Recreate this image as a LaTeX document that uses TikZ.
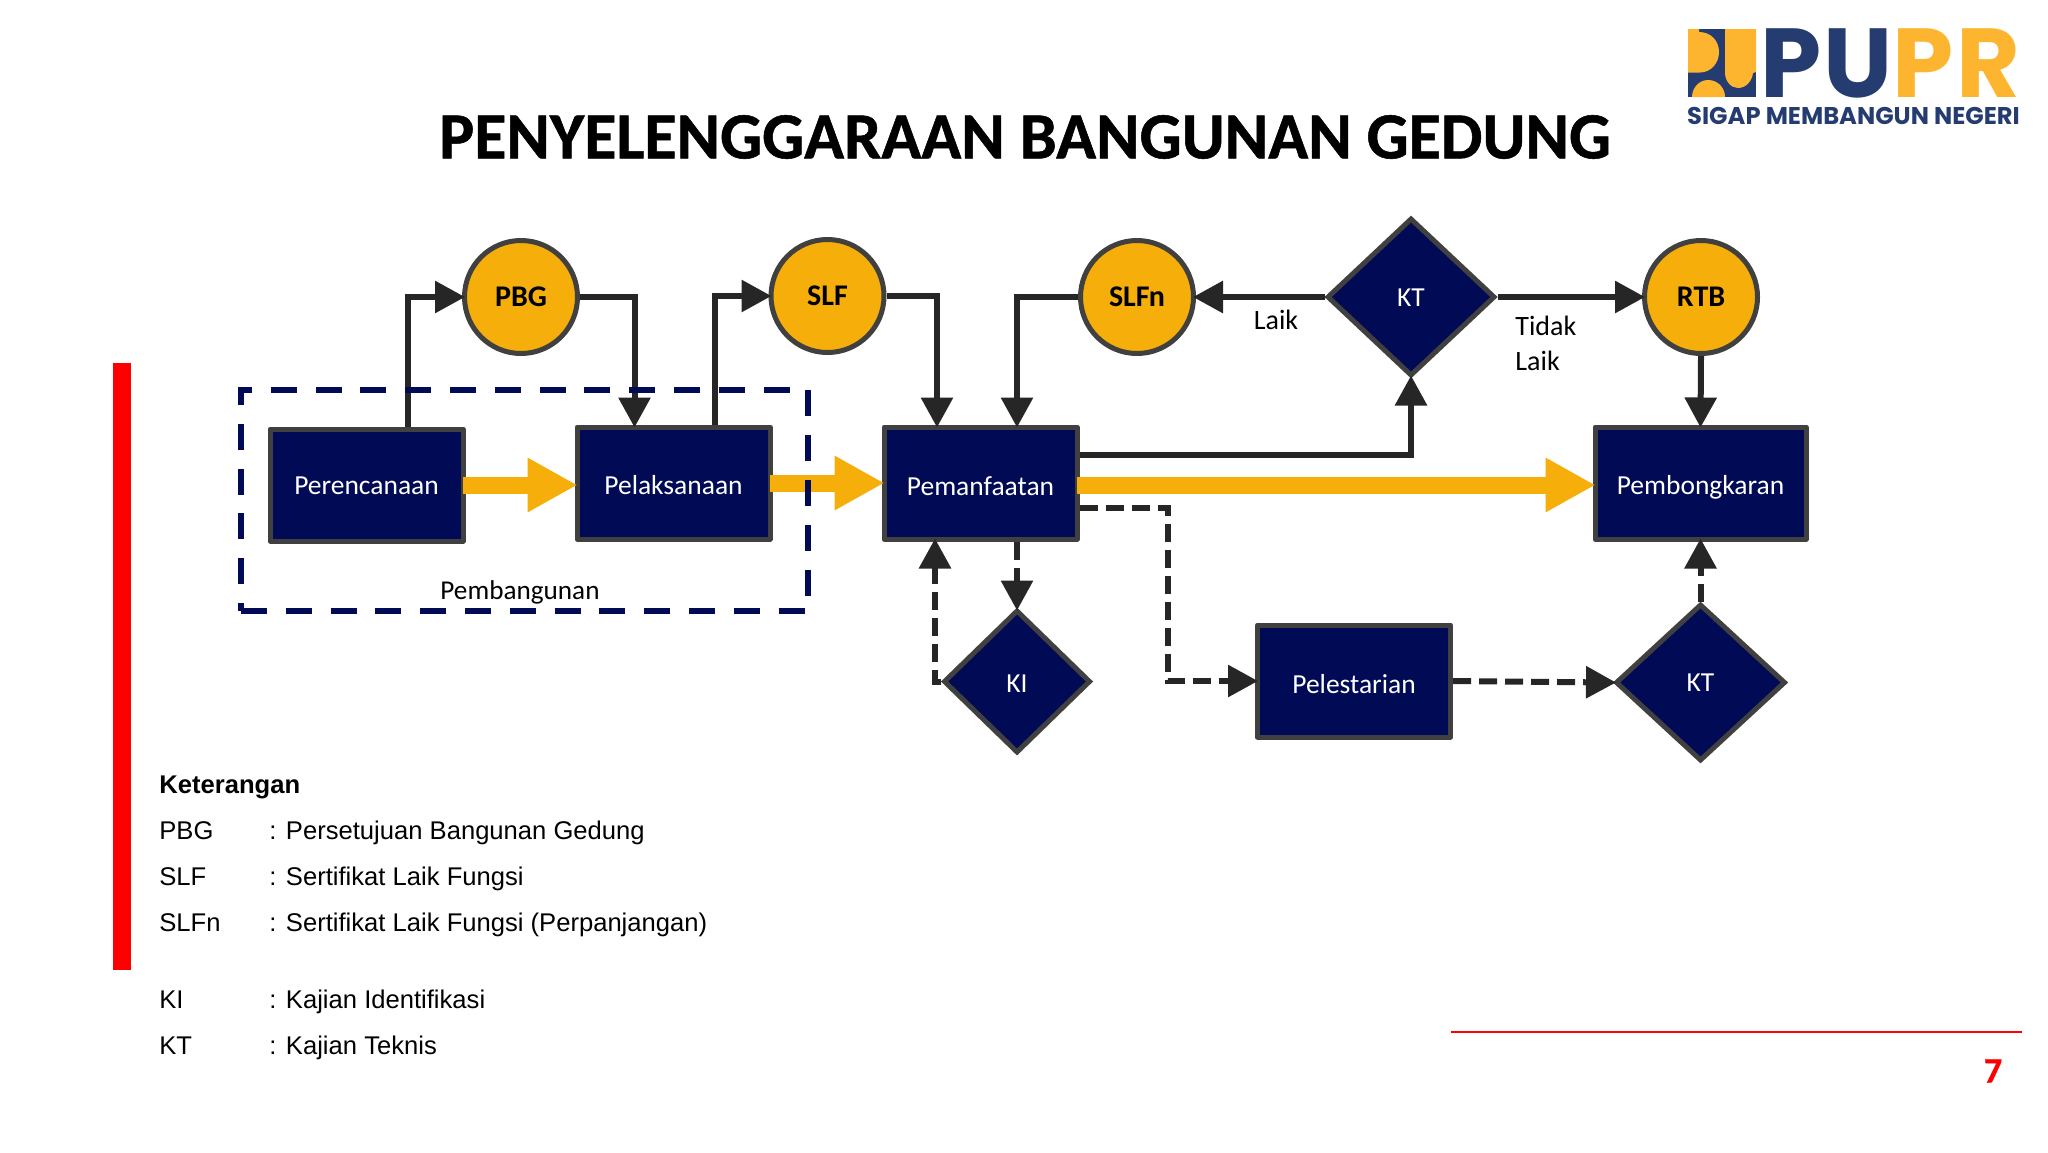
\documentclass[tikz,border=0pt]{standalone}
\usepackage{fontspec}
\setmainfont{Carlito}
\newfontfamily\legendfont{Liberation Sans}
\newfontfamily\logofont{Poppins}
\newfontfamily\logowide[LetterSpace=2.3]{Poppins}
\newfontfamily\judulfont[BoldFeatures={FakeBold=0.8}]{Carlito}
\usetikzlibrary{positioning, arrows.meta, shapes.geometric}
\definecolor{navybox}{HTML}{000A55}
\definecolor{edgegrey}{HTML}{404040}
\definecolor{flowyellow}{HTML}{F5AE0A}
\definecolor{linedark}{HTML}{262626}
\definecolor{logonavy}{HTML}{243C70}
\definecolor{logoyellow}{HTML}{FDB52F}
\definecolor{barred}{HTML}{FE0000}

\begin{document}
\begin{tikzpicture}[
  x=0.5pt, y=-0.5pt,
  every node/.style={font=\fontsize{13.75}{16}\selectfont},
  boxnode/.style={rectangle, draw=edgegrey, fill=navybox, line width=2.5pt, line join=round,
    text=white, minimum height=56pt, minimum width=96.5pt, inner sep=0pt, text height=9pt, text depth=0pt},
  circnode/.style={circle, draw=edgegrey, fill=flowyellow, line width=2.5pt, minimum size=56.5pt,
    inner sep=0pt, text height=9pt, text depth=0pt, font=\fontsize{15}{16}\selectfont\bfseries},
  kajian/.style={diamond, draw=edgegrey, fill=navybox, line width=2.5pt, text=white, inner sep=0pt,
    text height=9pt, text depth=0pt},
  arr/.style={-{Triangle[length=15pt, width=15.5pt]}, line width=3pt, color=linedark, shorten >=-1.5pt},
  arrdash/.style={arr, dash pattern=on 9pt off 4pt},
  arrflow/.style={-{Triangle[length=25pt, width=25.5pt]}, line width=8.5pt, color=flowyellow,
    shorten >=-1.5pt, shorten <=-1.5pt},
  legtext/.style={anchor=base west, inner sep=0pt, font=\fontsize{12.8}{16}\selectfont\legendfont}
]
  \useasboundingbox (0,0) rectangle (2048,1152);

  \node[font=\fontsize{33}{40}\selectfont\judulfont\bfseries, inner sep=0pt] (judul) at (1025,137) {PENYELENGGARAAN BANGUNAN GEDUNG};

  \fill[logonavy] (1688,29) rectangle (1756,97);
  \fill[logoyellow] (1688,29) -- (1699,29) -- (1699,32) .. controls (1711,32) and (1719,41) .. (1719,52)
    .. controls (1719,63) and (1711,72.5) .. (1700,72.5) -- (1688,72.5) -- cycle;
  \fill[logoyellow] (1725,29) -- (1756,29) -- (1756,72) -- (1753,73) .. controls (1752,81) and (1746,88) .. (1738,88)
    .. controls (1731,88) and (1725,81) .. (1725,73) -- cycle;
  \fill[logoyellow] (1692,97) .. controls (1692,88) and (1699,80) .. (1708,80)
    .. controls (1718,80) and (1725,88) .. (1725,97) -- cycle;
  \node[anchor=base west, inner sep=0pt, text depth=0pt, font=\fontsize{49}{50}\selectfont\logowide\bfseries] (logotext) at (1760,97)
    {\textcolor{logonavy}{PU}\textcolor{logoyellow}{PR}};
  \node[inner sep=0pt, text=logonavy, font=\fontsize{12.1}{14}\selectfont\logofont\bfseries] (tagline) at (1853.5,116) {SIGAP MEMBANGUN NEGERI};

  \fill[barred] (113,363) rectangle (131,970);
  \draw[barred, line width=1pt] (1451,1032) -- (2022,1032);
  \node[text=barred, font=\fontsize{18}{20}\selectfont\judulfont\bfseries, inner sep=0pt] (halaman) at (1993,1071) {7};

  \node[boxnode] (perencanaan) at (366.5,485) {Perencanaan};
  \node[boxnode, right=54.5pt of perencanaan, yshift=1pt, text height=11pt] (pelaksanaan) {Pelaksanaan};
  \node[boxnode, right=54.5pt of pelaksanaan, text height=12pt] (pemanfaatan) {Pemanfaatan};
  \node[boxnode, right=256.5pt of pemanfaatan, minimum width=105.5pt, text height=11pt] (pembongkaran) {Pembongkaran};
  \node[boxnode, text height=12pt] (pelestarian) at (1354,681) {Pelestarian};

  \node[circnode] (pbg) at (521,297) {PBG};
  \node[circnode] (slf) at (827.5,296) {SLF};
  \node[circnode] (slfn) at (1137,297) {SLFn};
  \node[circnode] (rtb) at (1701,297) {RTB};

  \node[kajian, minimum width=84pt, minimum height=79pt] (kt) at (1411,297) {KT};
  \node[kajian, below=33pt of pemanfaatan, xshift=18.25pt, minimum width=73.5pt, minimum height=71.5pt, text height=11pt] (ki) {KI};
  \node[kajian, below=30pt of pembongkaran, minimum width=85pt, minimum height=78.5pt] (ktb) {KT};

  \draw[arr] ([xshift=20.5pt]perencanaan.north) |- (pbg.west);
  \draw[arr] (pbg.east) -| ([xshift=-19.5pt]pelaksanaan.north);
  \draw[arr] ([xshift=20.75pt]pelaksanaan.north) |- (slf.west);
  \draw[arr] (slf.east) -| ([xshift=-21.75pt]pemanfaatan.north);
  \draw[arr] (slfn.west) -| ([xshift=18.25pt]pemanfaatan.north);
  \draw[arr] (kt.west) -- (slfn.east);
  \draw[arr] (kt.east) -- (rtb.west);
  \draw[arr] (rtb.south) -- (pembongkaran.north);
  \draw[arr] ([yshift=14pt]pemanfaatan.east) -| (kt.south);

  \draw[arrflow] (perencanaan.east) -- (perencanaan.east -| pelaksanaan.west);
  \draw[arrflow] (pelaksanaan.east) -- (pemanfaatan.west);
  \draw[arrflow] ([yshift=-1pt]pemanfaatan.east) -- ([yshift=-1pt]pembongkaran.west);

  \coordinate (belok) at (1167.5,508);
  \draw[arrdash] ([yshift=-12.5pt]pemanfaatan.east) -- (belok) |- (pelestarian.west);
  \draw[arrdash] ([xshift=18.25pt]pemanfaatan.south) -- (ki.north);
  \draw[arrdash] (ki.west) -| ([xshift=-22.75pt]pemanfaatan.south);
  \draw[arrdash] (pelestarian.east) -- (ktb.west);
  \draw[arrdash] (ktb.north) -- (pembongkaran.south);

  \node[rectangle, draw=navybox, line width=3pt, dash pattern=on 13pt off 9.4pt,
    minimum width=283.5pt, minimum height=110.5pt, inner sep=0pt] (pembangunan) at (524.5,500.5) {};
  \node[inner sep=0pt, font=\fontsize{13.6}{16}\selectfont] (pembangunanlabel) at (520,592) {Pembangunan};
  \node[inner sep=0pt, font=\fontsize{14}{16}\selectfont] (laik) at (1276,320) {Laik};
  \node[inner sep=0pt, anchor=west, font=\fontsize{14}{16}\selectfont] (tidak) at (1515,326) {Tidak};
  \node[inner sep=0pt, anchor=west, font=\fontsize{14}{16}\selectfont] (tidaklaik) at (1515,361) {Laik};

  \node[legtext, font=\fontsize{12.8}{16}\selectfont\legendfont\bfseries] (ket) at (159,793) {Keterangan};
  \node[legtext] (kunci1) at (159,839) {PBG};
  \node[legtext] (arti1) at (269,839) {: Persetujuan Bangunan Gedung};
  \node[legtext] (kunci2) at (159,885) {SLF};
  \node[legtext] (arti2) at (269,885) {: Sertifikat Laik Fungsi};
  \node[legtext] (kunci3) at (159,931) {SLFn};
  \node[legtext] (arti3) at (269,931) {: Sertifikat Laik Fungsi (Perpanjangan)};
  \node[legtext] (kunci4) at (159,1008) {KI};
  \node[legtext] (arti4) at (269,1008) {: Kajian Identifikasi};
  \node[legtext] (kunci5) at (159,1054) {KT};
  \node[legtext] (arti5) at (269,1054) {: Kajian Teknis};
\end{tikzpicture}
\end{document}
